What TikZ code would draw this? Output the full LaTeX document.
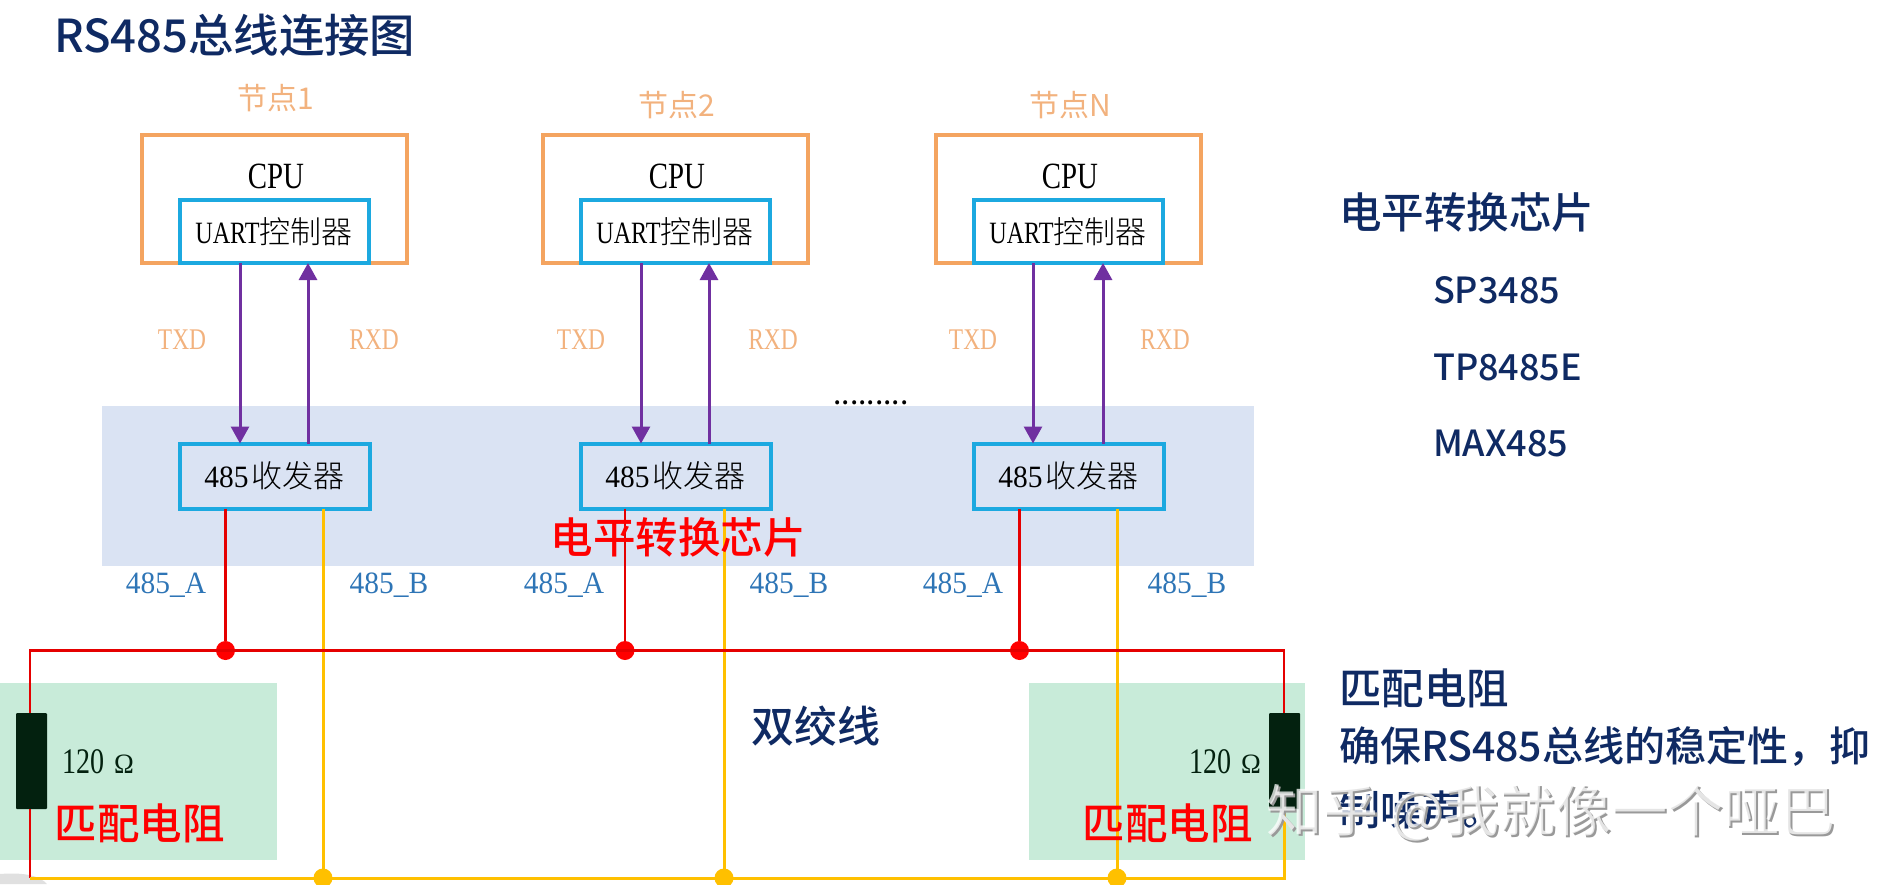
\documentclass[tikz,border=0pt]{standalone}
\usepackage{fontspec}
\usetikzlibrary{arrows.meta}
\setmainfont{Noto Sans CJK SC}
\newfontfamily\cjk{Noto Sans CJK SC}
\newfontfamily\cjkl{Noto Sans CJK SC}[UprightFont=* Light]
\newfontfamily\cjkm{Noto Sans CJK SC}[UprightFont=* Medium]
\newfontfamily\lab[FakeStretch=0.78]{Liberation Serif}
\newfontfamily\labw[FakeStretch=0.95]{Liberation Serif}
\newcommand{\fsz}[1]{\fontsize{#1}{#1}\selectfont}
\definecolor{navy}{HTML}{0F2A63}
\definecolor{orng}{HTML}{F4A460}
\definecolor{ltorng}{HTML}{F2B27E}
\definecolor{cyanb}{HTML}{1CA9E0}
\definecolor{purp}{HTML}{7030A0}
\definecolor{band}{HTML}{DAE3F3}
\definecolor{mint}{HTML}{C8EBD9}
\definecolor{ylw}{HTML}{FFC000}
\definecolor{lblue}{HTML}{2E75B6}
\definecolor{resk}{HTML}{03210F}
\tikzset{
  every node/.style={inner sep=0pt,outer sep=0pt},
  cpubox/.style={draw=orng,line width=4pt,minimum width=265pt,minimum height=128pt},
  ctlbox/.style={draw=cyanb,line width=4pt,fill=white,minimum width=189pt,minimum height=63pt,font=\fsz{31}},
  xcvrbox/.style={draw=cyanb,line width=4pt,minimum width=190pt,minimum height=65pt,font=\fsz{31}},
  nodelabel/.style={text=ltorng,font=\fsz{30}},
  siglabel/.style={text=ltorng,font=\lab\fsz{30}},
  buslabel/.style={text=lblue,font=\labw\fsz{31}},
  cpulabel/.style={font=\lab\fsz{37}},
  reslabel/.style={text=resk,font=\lab\fsz{36}},
  redtext/.style={text=red,font=\cjkm\fsz{42.5}},
  heading/.style={text=navy,anchor=west,font=\cjkm\fsz{42.5}},
  chipname/.style={text=navy,anchor=west,font=\cjkm\fsz{36}},
  sig/.style={draw=purp,line width=3pt,-{Triangle[width=18pt,length=17pt]}},
  redw/.style={draw=red!90!black,line width=2.8pt},
  ylww/.style={draw=ylw,line width=3pt},
  dotred/.style={circle,fill=red,minimum size=19pt},
  dotylw/.style={circle,fill=ylw,minimum size=19pt},
  resbox/.style={fill=resk,rounded corners=1pt,minimum width=31pt,minimum height=96pt},
  panel/.style={fill=mint,anchor=north west}
}
\begin{document}
\begin{tikzpicture}[x=1pt,y=-1pt]
\useasboundingbox (0,0) rectangle (1882,884);
% backgrounds
\fill[band] (102,406) rectangle (1254,566);
\node[panel,minimum width=277pt,minimum height=177pt] (greenL) at (0,683) {};
\node[panel,minimum width=276pt,minimum height=177pt] (greenR) at (1029,683) {};
\fill[black!12] (0,874) .. controls (25,872) and (40,876) .. (47,884) -- (0,884) -- cycle;
% title
\node[text=navy,anchor=west,font=\cjkm\fsz{45.4}] (title) at (54,35) {RS485总线连接图};
% node blocks
\foreach \i/\cx/\lx/\ly/\nm in {1/274/276/98/节点1,2/675/677/105/节点2,3/1068/1070/105/节点N}{
  \node[nodelabel] (nlab\i) at (\lx,\ly) {\nm};
  \node[cpubox] (cpu\i) at (\cx,199) {};
  \node[cpulabel] (cpuname\i) at (\lx,176) {CPU};
  \node[ctlbox] (uart\i) at (\cx,231.5) {{\lab UART}{\cjkl 控制器}};
  \node[xcvrbox] (xcvr\i) at (\cx+.5,476) {{\labw 485}\hspace{3pt}{\cjkl 收发器}};
}
% signal lines
\foreach \i/\tx/\rx/\tl/\rl in {1/240/308/182/374,2/641/709/581/773,3/1033/1103/973/1165}{
  \coordinate (tp\i) at (\tx,350);
  \coordinate (rp\i) at (\rx,350);
  \draw[sig] (uart\i.south -| tp\i) -- (xcvr\i.north -| tp\i);
  \draw[sig] (xcvr\i.north -| rp\i) -- (uart\i.south -| rp\i);
  \node[siglabel] (txd\i) at (\tl,340) {TXD};
  \node[siglabel] (rxd\i) at (\rl,340) {RXD};
}
\node[font=\fsz{30}] (dots) at (871,403) {.........};
% resistors and bus
\node[resbox] (resL) at (31.5,761) {};
\node[resbox] (resR) at (1284.5,761) {};
\coordinate (busTL) at (30,650.5);
\coordinate (busTR) at (1284,650.5);
\coordinate (busBL) at (30,878);
\coordinate (busBR) at (1284,878);
\foreach \i/\ax/\bx in {1/225.5/323,2/625/724,3/1019.5/1117}{
  \node[dotylw] (jb\i) at (\bx,878) {};
  \draw[ylww] (xcvr\i.south -| jb\i) -- (jb\i);
  \node[dotred] (ja\i) at (\ax,650.5) {};
  \draw[redw] (xcvr\i.south -| ja\i) -- (ja\i);
}
\draw[redw] (resL.north -| busTL) -- (busTL) -- (busTR) -- (resR.north -| busTR);
\draw[redw] (resL.south -| busBL) -- (busBL);
\draw[ylww] (busBL) -- (busBR) -- (resR.south -| busBR);
\foreach \i/\a/\b in {1/166/389,2/564/789,3/963/1187}{
  \node[buslabel] (la\i) at (\a,585) {485\_A};
  \node[buslabel] (lb\i) at (\b,585) {485\_B};
}
% labels
\node[redtext] (redchip) at (678,537) {电平转换芯片};
\node[text=navy,font=\cjkm\fsz{43}] (twist) at (816,726) {双绞线};
\node[reslabel,anchor=west] (ohmL) at (62,762) {120\hspace{10pt}{\labw\fsz{28}Ω}};
\node[reslabel,anchor=east] (ohmR) at (1261,762) {120\hspace{10pt}{\labw\fsz{28}Ω}};
\node[redtext] (matchL) at (139.5,823) {匹配电阻};
\node[redtext] (matchR) at (1167.5,823) {匹配电阻};
% right column
\node[heading] (chiphead) at (1339,212) {电平转换芯片};
\node[chipname] (chipA) at (1433,290) {SP3485};
\node[chipname] (chipB) at (1433,367) {TP8485E};
\node[chipname] (chipC) at (1433,443) {MAX485};
\node[heading] (matchhead) at (1339,688) {匹配电阻};
\node[heading,font=\cjkm\fsz{41}] (matchA) at (1339,746) {确保RS485总线的稳定性，抑};
\node[heading,font=\cjkm\fsz{41}] (matchB) at (1339,810) {制噪声。};
% watermark
\node[text=black!40,anchor=west,font=\fsz{56}] (wmshadow) at (1268,815) {知乎 @我就像一个哑巴};
\node[text=white,anchor=west,font=\fsz{56},opacity=.75] (wm) at (1266,813) {知乎 @我就像一个哑巴};
\end{tikzpicture}
\end{document}
